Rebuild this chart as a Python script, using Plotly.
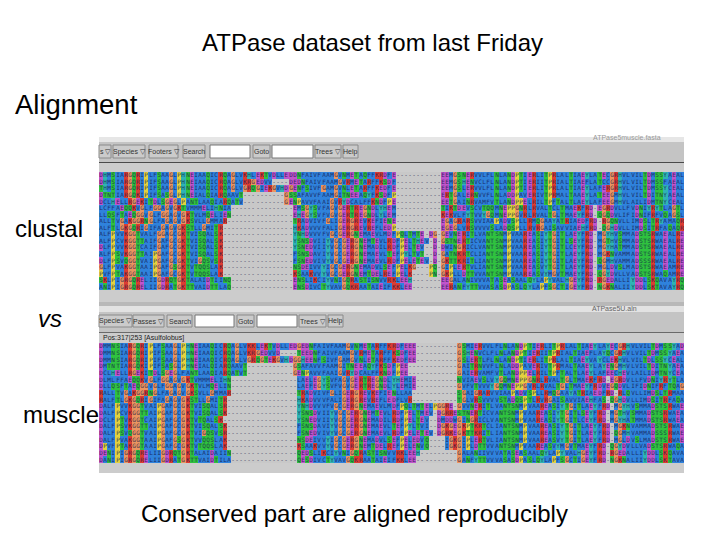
import plotly.graph_objects as go

# residues (blurry, so best guess)
clustal_left = [
    "DHMSIARGQRIPLFSAAGLPHNEIAAQICRQAGLVKHLEKTVDLLED",
    "DHMSIARGQRIPIFSAAGLPHNEIAAQICRQAGLVKRGEDVV----DT",
    "THMSIARGQRIPIFSAAGLPHNEIAAQICRQAGLVGRQGIEKGVHDG",
    "DTNTIARGQKIPIFSASGLPHNEIALQIARQAAVT----------GS",
    "DCLHELLRGEKITDLSGEGLPANTLAAQIARQATV----------GE",
    "LCFFAEQQKVGLFGGAGVGKTVMMMELIHNIA",
    "LLQSFTAEQGGVGLFGGAGVGKTVLMQELIEN",
    "ALLTVGAKGGRNGLFAGAGVGKSVLLGMMAR",
    "ALFTLGKGQRIGIFAGAGVGKSTLLGMITR",
    "ALFPVVKGGTVALFGGAGCGKTVISQALSK",
    "ALFPCVKGGTTAIFGAFGCGKTVISQALSK",
    "DLFPVVKGGTCAIFGAFGCGKTVISQALSK",
    "ALFPSVKGGTTAIPGAFGCGKTVISQALSK",
    "DLFPSVQGGTVAIPGAFGCGKTVIGQSVSR",
    "GLFPVAKGGTAAIPGAFGSGKTVTQQSLAK",
    "PVFPTAKGGTAAIPGAFGCGKTVTQQSLAK",
    "SKLPIGRGQRELIIGDRQTGKTALAIDTIINQ",
    "ANIPIGRGQRELIIGDRATGKTTVAIDTTLAQ",
]
clustal_mid = [
    "DNFAIVFAAMGVNMETAQFFKRDFE",
    "EDNFAIVFAAMGVRMETARFFKSDF",
    "ENFSIVFGAMGVNLETARFFKEDFE",
    "SAFAVVFAAMGITNEEAQYFKSDFP",
    "NPAVVFAAIGVRYDCALFFKNDFPE",
    "EMSGYSVFAGVGERTREGNDLYHEM",
    "EHEGYSVFVGVGERTREGNDLYLEM",
    "TRADVIVFGLIGERGREVKEFIENE",
    "HKADVVVFALIGERGREVREFLEDP",
    "YNHDVVVFVGCGERGNEMAEVLMDFPQLTMTE-DG",
    "YSNSDVIIYVGCGERGNEMTEVLRDFPELTHEV-D",
    "YSNEDVIIYVGCGERGNEMADILRDFPELTEV--D",
    "FSNSDAVIYVGCGERGNEMAEVLTEFPYLTVT--D",
    "FSNEDVIVYVGCGERGNEMAEVLRDFPELETEV-D",
    "NSDEIVVYIGCGERGNEMADVLSEFPELKG---PQ",
    "KSAAKVVYVGCGERGNEMTDELREFPELK----PN",
    "ENSLIKCIYVNIGQRASTISNVVRKLEEH",
    "ENSDIVCTYVAVGQKRAATAIEIFKKLEE",
]
clustal_right = [
    "EEMGSNERVVLFLNLANDPTIERLITPRLALTIAEYLATECGRHVLVILTDMSSYAEALR",
    "EEMGSHENVCLFLNLANDPTIERIITPRIALTIAEFLATCCGRHVLVILTDMSSFAEALR",
    "EEMGSLERVVLFLNLANDPTIERLITPRLALTIAEYLAFERGRHVLVILTDMSSYCEALR",
    "ERTGALERNVVFLNLADDPAVERIVTPRMALTAAEYLATEEGMHVLVILTDITNYAEALR",
    "EETGAINRVAMFVTLANDPPELRILTPFTALTLAEYLAFEEGMHVLAILIDMTNYCEALR",
    "TIKTDEVSCVTQQMNEPPGNRLRVALTCLTMAEKFRD-EGRDVLLFVDNIYRYTLAGTLC",
    "KEKVLFYTVVYGQMNEPPGVRLRVALTGLTMAEYFRD-QGQDVLIFIDNIFRFVQAGSLC",
    "EGAGRARSVVIAAPADVSPLLRMQGAAYATRIAEDFRD-RGQNVLLIMDSLTRYAMAQRE",
    "EGEGLVRSVVVVSLADQSPLLRVRGAISAVVIAEHFRD-QGHDVLLIMDSITRFAQAQRE",
    "GEVNERITLVANTSNMPVAAREASIYTGITLAEYFRD-MGYHVSMMADSTSRWAEALREI",
    "GSTNERTICVANTSNMPVAAREASIYTGITLSEYFRD-MGTHVSMMADSTSRWAEALREI",
    "DWINGRICLVANTSNMPVAAREASIYTGITLCEYFRD-MGYHATMMADSTSRWAEALREI",
    "GATNKRTCLIANTSNMPVAAREASIYTGITLAEYFRD-MGKNVAMMADSTSRWAEALREI",
    "GKTTKRITLIANTSNMPVAAREASIYTGITLAEYFRD-QGMHVAMMADSSSRWAEALREI",
    "GIPLERTVLIANTSNMPVAAREASVYTGITLAEYFRD-MGLDVSLMADSTSRWAEAMREK",
    "GKPLLDTTVVANTSNMPVAAREASVYMGVTMAEYFRD-QGYDVLLVADSTSRWAQAMREI",
    "EEGALANIVVVATASEASAALQYLAPYVALHGEYFRD-RGEDALLIYDDLSKQAVAYRQL",
    "EERANFYTTVVASASDPASLQYLAPFSGCTIGEYFRD-NGKNALIIYDDLSKTAVAYRQM",
]

muscle_left = [
    "DMMNSIARGQRIPLFSAAGLPHNEIAAQICRQAGLVKKLEKTVDLLEDH",
    "DMMNSIARGQRIPIFSAAGLPHNEIAAQICRQAGLVKRGEDVVD----T",
    "DMMNSIARGQRIPIFSAAGLPHNEIAAQICRQAGLVGRQGTEKGVHDGH",
    "DMTNTIARGQKIPIFSASGLPHNEIALQIARQAAVT-----------GS",
    "DCLHELLRGEKITDLSGEGLFANTLAAQIARQATVT-----------GE",
    "DLMLFFAEQQKVGLFGGAGVGKTVMMMELIHN",
    "DLLQSFTAEQGGVGLFGGAGVGKTVLMQELIN",
    "RALLTVGAKGGRNGLFAGAGVGKSVLLGMMAR",
    "RALFTLGKGQRIGIFAGAGVGKSTLLGMITR",
    "DALFPVVKGGTVAIPGAFGCGKTVISQALSR",
    "DALFPCVKGGTTAIPGAFGCGKTVISQALSK",
    "DCLFPTVKGGTCAIPGAFGCGKTVTQALSK",
    "DALFPSVKGGTTAIPGAFGCGKTVISQALSK",
    "DALFPSVQGGTVAIPGAFGCGKTVIGQSVSR",
    "DALFPVAKGGTAAIPGAFGSGKTVVQQSLAK",
    "DPVFPTAKGGTAAIPGAFGCGKTVTQQSLAK",
    "DENIPIGRGQRELIIGDRQTGKTALAIDAIIN",
    "DANIPIGRGQRELIIGDRATGKTTVAIDTILA",
]
muscle_mid = [
    "GEDNFAIVFAAMGVNMETARFFKRDFEEE",
    "TEEDNFAIVFAAMGVRMETARFFKSDFEE",
    "GHEENFSIVFGAMGVNLETARFFKEDFEE",
    "SAFAVVFAAMGITNEEAQYFKSDFPEE",
    "ENPAVVFAAIGVRYDCALFFKNDFPEE",
    "LAELEGYSVFAGVGERTREGNDLYHEMIE",
    "LAEFEGYSVFVGVGERTREGNDLYLEMIE",
    "TRADVIVFGLIGERGREVKEFIENLLAA",
    "HKADVVVFALIGERGREVREFLEDFLVR",
    "YNHDVVVFVGCGERGNEMAEVLMDFPQLTMTELPGGRE",
    "YSNSDVIIYVGCGERGNEMTEVLRDFPELTMEV-DGRRE",
    "YSNEDVIIYVGCGERGNEMADILRDFPELTEV--DMDDW",
    "FSNSDAVIYVGCGERGNEMAEVLTEFPYLTVI--DGKGE",
    "FSNEDVIVYVGCGERGNEMAEVLRDFPELETEV-DGRKE",
    "NSDEIVVYIGCGERGNEMADVLSEFPELEDVQ----IGK",
    "KSAAKVVYVGCGERGNEMTDELREFPELENVQ----IGK",
    "QEDSLIKCIYVNIGQRASTISNVVRKLEEH",
    "QESDIVCTYVAVGQKRAATAIEIFKKLEE",
]
muscle_right = [
    "GSMIERVVLFLNLANDPTIERLITPRLALTIAEYLAYECGRHVLVILTDMSSYADALR",
    "GSHENVCLFLNLANDPTIERIITPRIALTIAEFLAYQCGRHVLVILTDMSSYAEALR",
    "GSLERTLFLNLANDPTIERLITPRLALTIAEYVAYCLEKHVLVILTDLSSYCEALR",
    "GAITRNVVFLNLADDPAVERIVTPRMALTAAEYLAYENGMHVLVILTDITNYAEALR",
    "GAIERVAMFVTLANDPPELRILTPFTALTLAEYLAFEECHEVLAILIDMTNYCEALR",
    "NVIAEVSLVYGQMNEPPGNRLRVALTGLTMAEKFRD-EGRDVLLFVDNIYRYTLAGT",
    "GVFVTVVVYGQMNEPPGVRLRVALTGLTMAEYFRDVEGQDVLIFIDNIFRFTQAGS",
    "SGAIGRARVVIAAPADVSPLLRMQGAAYATRIAEDFRD-RLQVLLIMDSLTRMAAAQ",
    "TGLVRSVVVVSTADQSPTLRVRGAISAVVIAEHFAS-QGHDVLLIMDSITRFAQAQR",
    "GVVNERITLVANTSNMPVAAREASIYTGITLAEYFRD-MGYHVSMMADSTSRWAEALR",
    "STNERTICVANTSNMPVAAREASIYTGITLSEYFRD-MGTHVSMMADSTSRWAEALR",
    "GINGRICLVANTSNMPVAAREASIYTGITLCEYFRD-MGYHATMMADSTSRWAEALR",
    "GKPTKRTCLIANTSNMPVAAREASIYTGITLAEYFRD-MGKNVAMMADSTSRWAEAL",
    "GKTTKRITLIANTSNMPVAAREASIYTGITLAEYFRD-QGMHVAMMADSSSRWAEAL",
    "GIPLERTVLIANTSNMPVAAREASVYTGITLAEYFRD-MGLDVSLMADSTSRWAEAL",
    "GIPLDTTVVANTSNMPVAAREASVYMGVTMAEYFRD-QGYDVLLVADSTSRWAQAL",
    "GALANIIVVVATASEASAALQYLAPYVALHGEYFRD-RGEDALLIYDDLSKQAVAYR",
    "GANFYTTVVVASASDPASLQYLAPFSGCTIGEYFRD-NGKNALIIYDDLSKTAVAYR",
]

residue_groups = ["-", "AILMFVWC", "KR", "DE", "NQST", "G", "P", "HY"]
group_colors = ["#c8c8c8", "#2f82dc", "#dc3c32", "#c054cc", "#2fc23f", "#ea9560", "#e2d240", "#2fb4b4"]
top_buttons = ["s ▽", "Species ▽", "Footers ▽", "Search", "Goto", "Trees ▽", "Help"]
bottom_buttons = ["Species ▽", "Passes ▽", "Search", "Goto", "Trees ▽", "Help"]


def build_rows(left, mid, right, widths):
    rows = []
    for a, b, c in zip(left, mid, right):
        rows.append(a[:widths[0]].ljust(widths[0], "-") + b[:widths[1]].ljust(widths[1], "-") + c[:widths[2]].ljust(widths[2], "-"))
    return rows


def group_of(ch):
    for i, g in enumerate(residue_groups):
        if ch in g:
            return i
    return 0


clustal_rows = build_rows(clustal_left, clustal_mid, clustal_right, (47, 36, 59))
muscle_rows = build_rows(muscle_left, muscle_mid, muscle_right, (48, 39, 55))

n = len(group_colors)
scale = []
for i, c in enumerate(group_colors):
    scale += [[i / n, c], [(i + 1) / n, c]]

W, H = 720, 540
PAGE_MARGIN = 8  # the page body pushes the figure 8px right and down


def px_x(x):
    return (x - PAGE_MARGIN) / W


def px_y(y):
    return 1 - (y - PAGE_MARGIN) / H


def alignment(rows, xa, ya):
    return go.Heatmap(
        z=[[group_of(c) for c in r] for r in rows],
        text=[list(r) for r in rows],
        texttemplate="%{text}",
        textfont=dict(size=6, color="rgba(20,20,70,0.8)", family="DejaVu Sans Mono"),
        colorscale=scale, zmin=0, zmax=n, showscale=False, hoverinfo="skip",
        xaxis=xa, yaxis=ya,
    )


fig = go.Figure()
fig.add_trace(alignment(clustal_rows, "x", "y"))
fig.add_trace(alignment(muscle_rows, "x2", "y2"))

hidden = dict(visible=False, fixedrange=True)
fig.update_layout(
    width=W, height=H, margin=dict(l=0, r=0, t=0, b=0),
    paper_bgcolor="white", plot_bgcolor="#c8c8c8",
    font=dict(family="Liberation Sans", color="black"),
    xaxis=dict(hidden, domain=[px_x(99), px_x(684)], range=[-0.5, 141.5], anchor="y"),
    yaxis=dict(hidden, domain=[px_y(290), px_y(172)], range=[17.5, -0.5], anchor="x"),
    xaxis2=dict(hidden, domain=[px_x(99), px_x(684)], range=[-0.5, 141.5], anchor="y2"),
    yaxis2=dict(hidden, domain=[px_y(463), px_y(343)], range=[17.5, -0.5], anchor="x2"),
)


def box(x0, y0, x1, y1, fill, line=None):
    fig.add_shape(type="rect", xref="paper", yref="paper", layer="below",
                  x0=px_x(x0), x1=px_x(x1), y0=px_y(y1), y1=px_y(y0),
                  fillcolor=fill, line=dict(width=1 if line else 0, color=line or fill))


def label(x, y, text, size, color="black", anchor="left", italic=False):
    fig.add_annotation(xref="paper", yref="paper", x=px_x(x), y=px_y(y), text=f"<i>{text}</i>" if italic else text,
                       showarrow=False, xanchor=anchor, yanchor="middle", borderpad=0,
                       font=dict(size=size, color=color))


# window chrome of the screenshots
box(99, 137, 684, 142, "#e6e6e6")
box(99, 142, 684, 162, "#c4c4c4")
box(99, 162, 684, 163, "#4a4a4a")
box(99, 163, 684, 302, "#cccccc")
box(99, 302, 684, 312, "#b8b8b8")
box(99, 306, 684, 312, "#e2e2e2")
box(99, 312, 684, 332, "#c4c4c4")
box(99, 332, 684, 333, "#6a6a6a")
box(99, 333, 684, 473, "#cccccc")

top_x = [(99, 111), (113, 145), (149, 178), (183, 205), (253, 270), (315, 341), (343, 358)]
for text, (x0, x1) in zip(top_buttons, top_x):
    box(x0, 145, x1, 158, "#cbcbcb", "#8a8a8a")
    label((x0 + x1) / 2, 151.5, text, 7, "#333333", "center")
box(210, 145, 250, 158, "white", "#777777")
box(272, 145, 313, 158, "white", "#777777")

bottom_x = [(99, 132), (133, 164), (167, 192), (237, 254), (299, 326), (328, 343)]
for text, (x0, x1) in zip(bottom_buttons, bottom_x):
    box(x0, 315, x1, 327, "#cbcbcb", "#8a8a8a")
    label((x0 + x1) / 2, 321, text, 7, "#333333", "center")
box(195, 315, 234, 327, "white", "#777777")
box(257, 315, 297, 327, "white", "#777777")

label(592, 137, "ATPase5muscle.fasta", 7, "#999999")
label(591, 308, "ATPase5U.aln", 7, "#666666")
label(102, 338, "Pos:317|253 [Asulfolobus]", 7, "#222222")

# slide text
label(372.5, 42, "ATPase dataset from last Friday", 24, anchor="center")
label(14, 104, "Alignment", 27.5)
label(14, 229, "clustal", 24)
label(37, 318, "vs", 24, italic=True)
label(22, 414, "muscle", 24)
label(354.5, 513, "Conserved part are aligned reproducibly", 24, anchor="center")

fig.write_html("out.html")
